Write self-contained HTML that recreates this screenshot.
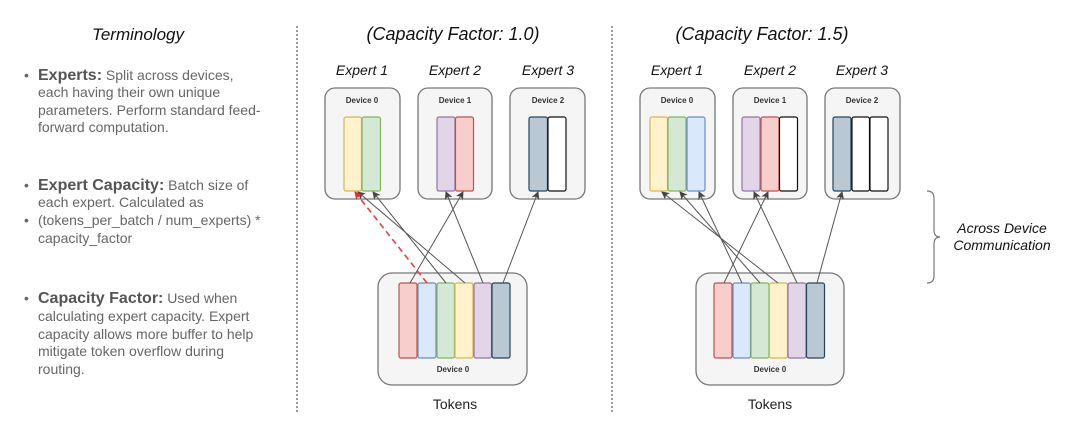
<!DOCTYPE html>
<html><head><meta charset="utf-8"><style>
html,body{margin:0;padding:0;background:#fff;}
svg{display:block;font-family:"Liberation Sans",Arial,sans-serif;}
</style></head><body>
<svg width="1080" height="439" viewBox="0 0 1080 439" xmlns="http://www.w3.org/2000/svg">
<defs>
<marker id="ar" markerWidth="8" markerHeight="8" refX="7" refY="4" orient="auto" markerUnits="userSpaceOnUse"><path d="M0,0 L8,4 L0,8 L2,4 Z" fill="#444"/></marker>
<marker id="arr" markerWidth="8" markerHeight="8" refX="7" refY="4" orient="auto" markerUnits="userSpaceOnUse"><path d="M0,0 L8,4 L0,8 L2,4 Z" fill="#e03030"/></marker>
</defs>
<!-- left text -->
<text x="138" y="40" font-size="17" font-style="italic" text-anchor="middle" fill="#111">Terminology</text>
<g font-size="14" fill="#666">
<text x="24" y="80" font-size="14">•</text>
<text x="38" y="80"><tspan font-weight="bold" font-size="16" fill="#555">Experts:</tspan> Split across devices,</text>
<text x="38" y="97">each having their own unique</text>
<text x="38" y="115">parameters. Perform standard feed-</text>
<text x="38" y="132">forward computation.</text>
<text x="24" y="190">•</text>
<text x="38" y="190"><tspan font-weight="bold" font-size="16" fill="#555">Expert Capacity:</tspan> Batch size of</text>
<text x="38" y="207">each expert. Calculated as</text>
<text x="24" y="225">•</text>
<text x="38" y="225">(tokens_per_batch / num_experts) *</text>
<text x="38" y="243">capacity_factor</text>
<text x="24" y="303">•</text>
<text x="38" y="303"><tspan font-weight="bold" font-size="16" fill="#555">Capacity Factor:</tspan> Used when</text>
<text x="38" y="321">calculating expert capacity. Expert</text>
<text x="38" y="339">capacity allows more buffer to help</text>
<text x="38" y="356">mitigate token overflow during</text>
<text x="38" y="374">routing.</text>
</g>
<!-- dividers -->
<line x1="297" y1="26" x2="297" y2="414" stroke="#666" stroke-width="1.3" stroke-dasharray="2,2"/>
<line x1="612" y1="26" x2="612" y2="414" stroke="#666" stroke-width="1.3" stroke-dasharray="2,2"/>
<!-- titles -->
<g font-size="18" font-style="italic" fill="#111" text-anchor="middle">
<text x="453" y="40">(Capacity Factor: 1.0)</text>
<text x="762" y="40">(Capacity Factor: 1.5)</text>
</g>
<g font-size="14" font-style="italic" fill="#111" text-anchor="middle">
<text x="362" y="75">Expert 1</text><text x="455" y="75">Expert 2</text><text x="548" y="75">Expert 3</text>
<text x="677" y="75">Expert 1</text><text x="770" y="75">Expert 2</text><text x="862" y="75">Expert 3</text>
</g>
<!-- boxes -->
<g fill="#f5f5f5" stroke="#777" stroke-width="1.3">
<rect x="325" y="88" width="75" height="111" rx="10"/>
<rect x="418" y="88" width="74" height="111" rx="10"/>
<rect x="510" y="88" width="75" height="111" rx="10"/>
<rect x="378" y="273" width="149" height="112" rx="14"/>
<rect x="640" y="88" width="75" height="111" rx="10"/>
<rect x="733" y="88" width="74" height="111" rx="10"/>
<rect x="825" y="88" width="75" height="111" rx="10"/>
<rect x="696" y="273" width="148" height="112" rx="14"/>
</g>
<g font-size="8" font-weight="bold" fill="#333" text-anchor="middle">
<text x="362" y="103">Device 0</text><text x="455" y="103">Device 1</text><text x="548" y="103">Device 2</text>
<text x="677" y="103">Device 0</text><text x="770" y="103">Device 1</text><text x="862" y="103">Device 2</text>
<text x="453" y="372">Device 0</text><text x="770" y="372">Device 0</text>
</g>
<!-- bars -->
<g stroke-width="1.2">
<rect x="344" y="117" width="17.5" height="74" rx="2" fill="#fff2cc" stroke="#d6b656"/>
<rect x="362" y="117" width="18.5" height="74" rx="2" fill="#d5e8d4" stroke="#82b366"/>
<rect x="437" y="117" width="18" height="74" rx="2" fill="#e1d5e7" stroke="#9673a6"/>
<rect x="455.5" y="117" width="18" height="74" rx="2" fill="#f8cecc" stroke="#b85450"/>
<rect x="529" y="117" width="18.5" height="74" rx="2" fill="#bac8d3" stroke="#23445d"/>
<rect x="548" y="117" width="18" height="74" rx="2" fill="#fff" stroke="#111"/>

<rect x="399" y="283" width="18" height="75" rx="2" fill="#f8cecc" stroke="#b85450"/>
<rect x="418" y="283" width="18" height="75" rx="2" fill="#dae8fc" stroke="#6c8ebf"/>
<rect x="437" y="283" width="17.5" height="75" rx="2" fill="#d5e8d4" stroke="#82b366"/>
<rect x="455" y="283" width="18" height="75" rx="2" fill="#fff2cc" stroke="#d6b656"/>
<rect x="474" y="283" width="17.5" height="75" rx="2" fill="#e1d5e7" stroke="#9673a6"/>
<rect x="492" y="283" width="18" height="75" rx="2" fill="#bac8d3" stroke="#23445d"/>

<rect x="650" y="117" width="17.5" height="74" rx="2" fill="#fff2cc" stroke="#d6b656"/>
<rect x="668" y="117" width="18" height="74" rx="2" fill="#d5e8d4" stroke="#82b366"/>
<rect x="687" y="117" width="18" height="74" rx="2" fill="#dae8fc" stroke="#6c8ebf"/>
<rect x="742" y="117" width="18" height="74" rx="2" fill="#e1d5e7" stroke="#9673a6"/>
<rect x="761" y="117" width="18" height="74" rx="2" fill="#f8cecc" stroke="#b85450"/>
<rect x="779.5" y="117" width="18" height="74" rx="2" fill="#fff" stroke="#111"/>
<rect x="833" y="117" width="18" height="74" rx="2" fill="#bac8d3" stroke="#23445d"/>
<rect x="852" y="117" width="17.5" height="74" rx="2" fill="#fff" stroke="#111"/>
<rect x="870" y="117" width="18" height="74" rx="2" fill="#fff" stroke="#111"/>

<rect x="714" y="283" width="18" height="75" rx="2" fill="#f8cecc" stroke="#b85450"/>
<rect x="733" y="283" width="17.5" height="75" rx="2" fill="#dae8fc" stroke="#6c8ebf"/>
<rect x="751" y="283" width="18" height="75" rx="2" fill="#d5e8d4" stroke="#82b366"/>
<rect x="769.5" y="283" width="18" height="75" rx="2" fill="#fff2cc" stroke="#d6b656"/>
<rect x="788" y="283" width="18" height="75" rx="2" fill="#e1d5e7" stroke="#9673a6"/>
<rect x="806.5" y="283" width="18" height="75" rx="2" fill="#bac8d3" stroke="#23445d"/>
</g>
<!-- arrows left -->
<g stroke="#555" stroke-width="1" fill="none" marker-end="url(#ar)">
<line x1="410" y1="283" x2="463" y2="192"/>
<line x1="446" y1="283" x2="373" y2="192"/>
<line x1="465" y1="283" x2="358" y2="192"/>
<line x1="483" y1="283" x2="446" y2="192"/>
<line x1="503" y1="283" x2="538" y2="192"/>
</g>
<line x1="427" y1="283" x2="355" y2="192" stroke="#e84040" stroke-width="1.6" stroke-dasharray="6,4" marker-end="url(#arr)"/>
<!-- arrows right -->
<g stroke="#555" stroke-width="1" fill="none" marker-end="url(#ar)">
<line x1="724" y1="283" x2="768" y2="192"/>
<line x1="742" y1="283" x2="699" y2="192"/>
<line x1="760" y1="283" x2="680" y2="192"/>
<line x1="778" y1="283" x2="662" y2="192"/>
<line x1="797" y1="283" x2="754" y2="192"/>
<line x1="817" y1="283" x2="842" y2="192"/>
</g>
<!-- tokens -->
<g font-size="14" fill="#222" text-anchor="middle">
<text x="455" y="409">Tokens</text><text x="770" y="409">Tokens</text>
</g>
<!-- brace -->
<path d="M927,191 Q934,191 934,198 L934,230 Q934,237 940,237 Q934,237 934,244 L934,276 Q934,283 927,283" fill="none" stroke="#777" stroke-width="1.2"/>
<g font-size="14" font-style="italic" fill="#111" text-anchor="middle">
<text x="1002" y="233">Across Device</text>
<text x="1002" y="250">Communication</text>
</g>
</svg>
</body></html>
